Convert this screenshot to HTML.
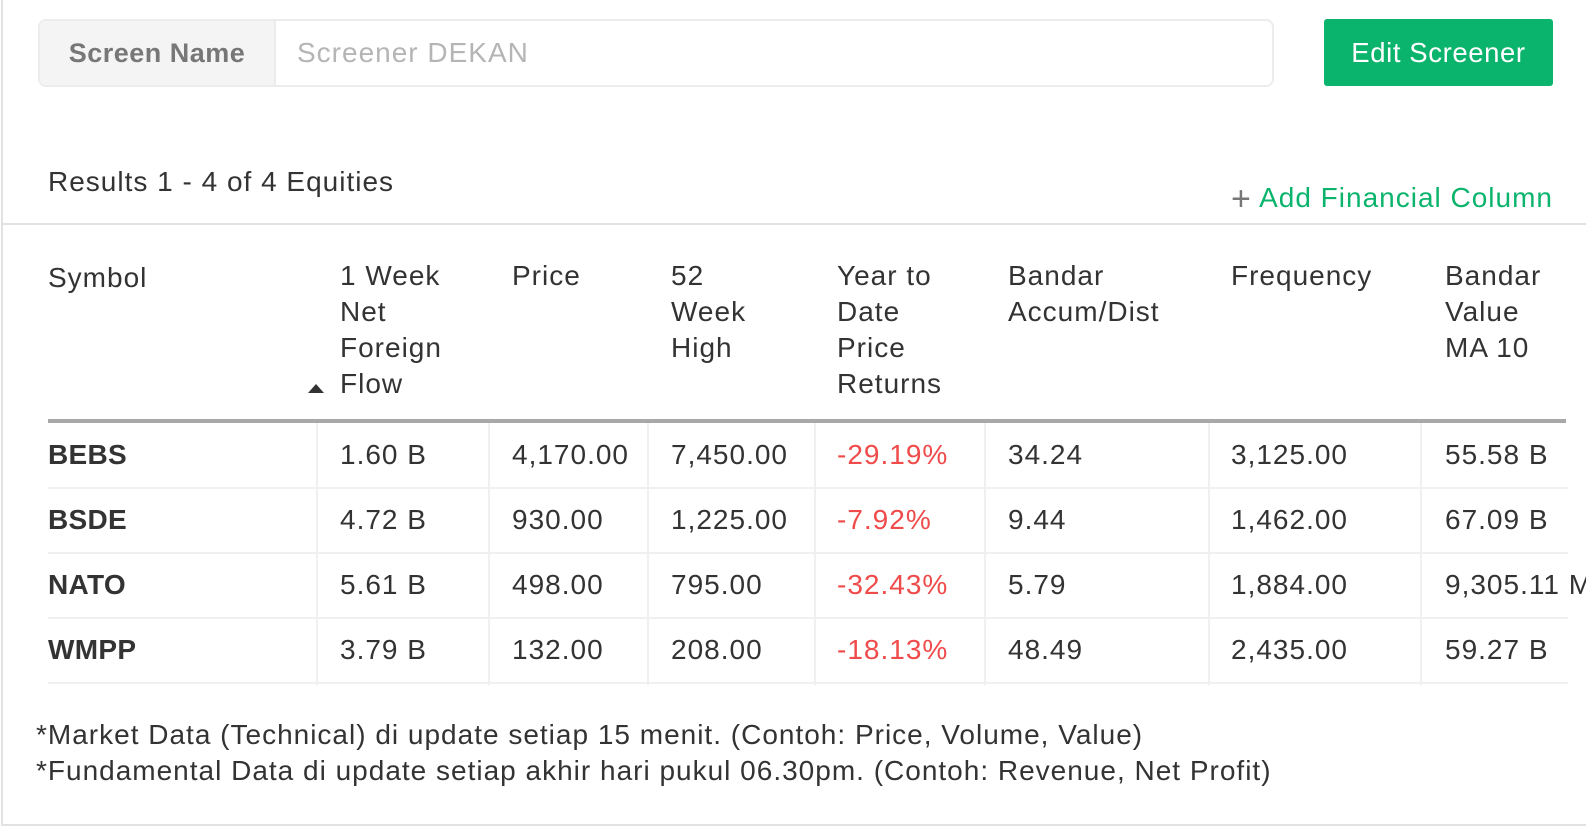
<!DOCTYPE html>
<html><head><meta charset="utf-8"><style>
body{margin:0;width:1586px;height:834px;background:#fff;font-family:"Liberation Sans",sans-serif;color:#333;position:relative;overflow:hidden}
.a{position:absolute;white-space:nowrap}
.t{font-size:28px;line-height:36px;letter-spacing:1px}
.red{color:#f04b4b}
.vl{position:absolute;width:2px;background:#f0f0f0;top:423px;height:262px}
.hl{position:absolute;left:48px;width:1520px;height:2px;background:#f0f0f0}
</style></head><body>
<div class="a" style="left:1px;top:0;width:1590px;height:824px;border-left:2px solid #e2e2e2;border-bottom:2px solid #e2e2e2"></div>
<div class="a" style="left:38px;top:19px;width:1232px;height:64px;border:2px solid #ececec;border-radius:8px;background:#fff"></div>
<div class="a" style="left:40px;top:21px;width:234px;height:64px;background:#f4f4f4;border-right:2px solid #ececec;border-radius:7px 0 0 7px;font-weight:bold;color:#777;font-size:27px;letter-spacing:0.5px;line-height:64px;text-align:center">Screen Name</div>
<div class="a" style="left:297px;top:21px;font-size:28px;letter-spacing:1px;line-height:64px;color:#b5b5b5">Screener DEKAN</div>
<div class="a" style="left:1324px;top:19px;width:229px;height:67px;background:#0bb46c;border-radius:3px;color:#fff;font-size:27.5px;letter-spacing:0.6px;line-height:67px;text-align:center">Edit Screener</div>
<div class="a t" style="left:48px;top:164px">Results 1 - 4 of 4 Equities</div>
<div class="a t" style="right:33px;top:180px;color:#0bb46c"><span style="color:#777;font-size:34px;vertical-align:-3px">+</span> Add Financial Column</div>
<div class="a" style="left:2px;top:223px;width:1584px;height:2px;background:#e2e2e2"></div>

<div class="a t" style="left:48px;top:260px">Symbol</div>
<div class="a t" style="left:340px;top:258px">1 Week<br>Net<br>Foreign<br>Flow</div>
<div class="a" style="left:308px;top:384px;width:0;height:0;border-left:8px solid transparent;border-right:8px solid transparent;border-bottom:9px solid #333"></div>
<div class="a t" style="left:512px;top:258px">Price</div>
<div class="a t" style="left:671px;top:258px">52<br>Week<br>High</div>
<div class="a t" style="left:837px;top:258px">Year to<br>Date<br>Price<br>Returns</div>
<div class="a t" style="left:1008px;top:258px">Bandar<br>Accum/Dist</div>
<div class="a t" style="left:1231px;top:258px">Frequency</div>
<div class="a t" style="left:1445px;top:258px">Bandar<br>Value<br>MA 10</div>
<div class="a" style="left:48px;top:419px;width:1518px;height:4px;background:#a8a8a8"></div>

<div class="vl" style="left:316px"></div><div class="vl" style="left:488px"></div><div class="vl" style="left:647px"></div><div class="vl" style="left:814px"></div><div class="vl" style="left:984px"></div><div class="vl" style="left:1208px"></div><div class="vl" style="left:1420px"></div>
<div class="hl" style="top:487px"></div><div class="hl" style="top:552px"></div><div class="hl" style="top:617px"></div><div class="hl" style="top:682px"></div>

<div id="rows"></div>

<div class="a t" style="left:36px;top:717px">*Market Data (Technical) di update setiap 15 menit. (Contoh: Price, Volume, Value)</div>
<div class="a t" style="left:36px;top:753px">*Fundamental Data di update setiap akhir hari pukul 06.30pm. (Contoh: Revenue, Net Profit)</div>
<script>
const symbols=["BEBS","BSDE","NATO","WMPP"];
const flow=["1.60 B","4.72 B","5.61 B","3.79 B"];
const price=["4,170.00","930.00","498.00","132.00"];
const high52=["7,450.00","1,225.00","795.00","208.00"];
const ytd=["-29.19%","-7.92%","-32.43%","-18.13%"];
const accum=["34.24","9.44","5.79","48.49"];
const freq=["3,125.00","1,462.00","1,884.00","2,435.00"];
const bval=["55.58 B","67.09 B","9,305.11 M","59.27 B"];
const cols=[[symbols,48,'symbol'],[flow,340,'net-foreign-flow'],[price,512,'price'],[high52,671,'52-week-high'],[ytd,837,'ytd-return'],[accum,1008,'accum-dist'],[freq,1231,'frequency'],[bval,1445,'bandar-value']];
const host=document.getElementById('rows');
for(let r=0;r<symbols.length;r++){
 cols.forEach(([arr,x,n],ci)=>{
  const d=document.createElement('div');
  d.className='a t'+(ci===4?' red':'');
  
  
  d.style.left=x+'px';d.style.top=(437+r*65)+'px';
  if(ci===0){d.style.fontWeight='bold';d.style.letterSpacing='0.3px';}
  d.textContent=arr[r];host.appendChild(d);
 });
}
</script>
</body></html>
